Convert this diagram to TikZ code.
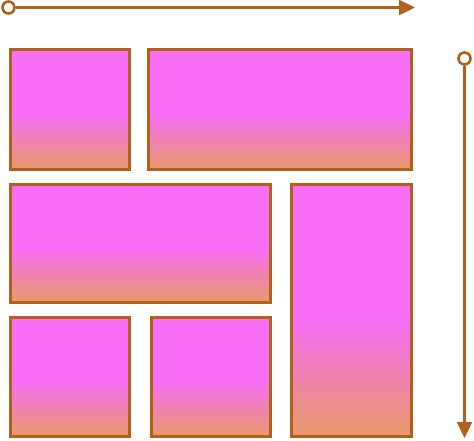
\documentclass[tikz,border=0pt]{standalone}
\usetikzlibrary{arrows.meta}
\usetikzlibrary{positioning}
\definecolor{edgebrown}{RGB}{178,96,30}
\definecolor{boxhigh}{RGB}{248,110,245}
\definecolor{boxlow}{RGB}{232,154,104}
\pgfdeclareverticalshading{boxfade}{100bp}{%
    color(0bp)=(boxlow); color(25bp)=(boxlow); color(48bp)=(boxhigh);
    color(100bp)=(boxhigh)}
\tikzset{
    block/.style={
           rectangle,
           draw=edgebrown, line width=3pt,
           shading=boxfade,
           inner sep=0pt,
           anchor=north west,
           },
    origin/.style={
           circle,
           draw=edgebrown, line width=2.6pt,
           fill=white,
           minimum size=12pt,
           inner sep=0pt,
           },
    axis/.style={
           draw=edgebrown, line width=2.4pt,
           -{Triangle[length=16pt,width=15pt]},
           },
}

\begin{document}
\begin{tikzpicture}[x=1pt,y=-1pt]

    \useasboundingbox (0,0) rectangle (474,440);

    % blocks
    \node[block,minimum width=119pt,minimum height=120pt] (B1) at (9,48) {};
    \node[block,minimum width=263pt,minimum height=120pt] (B2) at (147,48) {};
    \node[block,minimum width=260pt,minimum height=118pt] (B3) at (9,183) {};
    \node[block,minimum width=120pt,minimum height=252pt] (B4) at (290,183) {};
    \node[block,minimum width=119pt,minimum height=119pt] (B5) at (9,316) {};
    \node[block,minimum width=119pt,minimum height=119pt] (B6) at (150,316) {};

    % directions
    \node[origin] (H) at (8.5,7.5) {};
    \coordinate (Hend) at (415,7.5);
    \node[origin] (V) at (464.5,58.5) {};
    \coordinate (Vend) at (464.5,438);

    \draw[axis] (H) -- (Hend);
    \draw[axis] (V) -- (Vend);

\end{tikzpicture}
\end{document}
